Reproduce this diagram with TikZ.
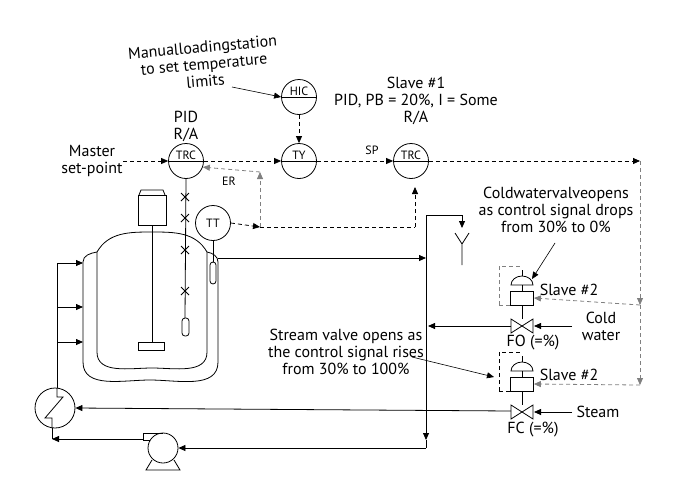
\documentclass[tikz,border=0pt]{standalone}
\usepackage{fontspec}
\setmainfont{PT Sans}
\usetikzlibrary{arrows.meta}
\begin{document}
\begin{tikzpicture}[x=1pt,y=-1pt,line width=0.8pt,
  inst/.style={circle,draw,minimum size=35pt,inner sep=0pt,font=\fontsize{12}{12}\selectfont},
  sig/.style={dashed,dash pattern=on 4pt off 3pt},
  gsig/.style={sig,draw=gray},
  arr/.style={-{Triangle[length=7pt,width=6pt]}},
  lbl/.style={font=\fontsize{16}{17}\selectfont,align=center,inner sep=1pt},
  small/.style={font=\fontsize{12}{12}\selectfont}]
\useasboundingbox (0,0) rectangle (676,479);
% instruments
\foreach \n/\x/\y/\t in {trc1/186/161/TRC,ty/299/161/TY,trc2/411/161/TRC,hic/299/97/HIC}{
  \node[inst] (\n) at (\x,\y) {};
  \draw (\x-17.5,\y) -- (\x+17.5,\y);
  \node[small,anchor=south,inner sep=1pt] at (\x,\y) {\t};
}
\node[inst] (tt) at (213,223) {TT};
% texts
\node[lbl] (master) at (92,161) {Master\\set-point};
\node[lbl] (pid) at (186,126) {PID\\R/A};
\node[lbl,rotate=5] (manual) at (204,64) {Manualloadingstation\\to set temperature\\limits};
\node[lbl] (slave1) at (416,101) {Slave \#1\\PID, PB = 20\%, I = Some\\R/A};
\node[small] (sp) at (372,150) {SP};
\node[small] (er) at (229,181) {ER};
\node[lbl] (cwnote) at (556,210) {Coldwatervalveopens\\as control signal drops\\from 30\% to 0\%};
\node[lbl] (stnote) at (346,352) {Stream valve opens as\\the control signal rises\\from 30\% to 100\%};
% signal lines
\coordinate (mstart) at (123,161);
\draw[sig,arr] (mstart) -- (trc1.west);
\draw[sig,arr] (trc1.east) -- (ty.west);
\draw[sig,arr] (ty.east) -- (trc2.west);
\draw[sig,arr] (hic.south) -- (ty.north);
\coordinate (rend) at (640,161);
\draw[sig,arr] (trc2.east) -- (rend);
\coordinate (er1) at (260,227);
\coordinate (er2) at (260,172);
\draw[sig,arr] (tt.east) -- (er1);
\draw[sig] (er1) -- (415,227);
\draw[sig,arr] (415,227) -- (415,187);
\draw[gsig,arr] (er1) -- (er2);
\draw[gsig,arr] (er2) -- (trc1.-20);
\coordinate (v1) at (640,305);
\coordinate (v2) at (640,385);
\draw[gsig,arr] (rend) -- (v1);
\draw[gsig,arr] (v1) -- (v2);
\coordinate (lim) at (232,87);
\draw[arr,line width=0.6pt] (lim) -- (hic.west);
% tank
\draw (83,262) -- (83,362) to[out=-90,in=180] (150,380) to[out=0,in=-90] (218,362) -- (218,262);
\draw (83,262) to[out=90,in=190] (97,252);
\draw (218,262) to[out=90,in=-10] (207,252);
\draw (97,252) to[out=60,in=180] (152,232) to[out=0,in=120] (207,252);
\draw (97,252) -- (97,352) to[out=-90,in=180] (152,368) to[out=0,in=-90] (207,352) -- (207,252);
% motor and agitator
\node[draw,minimum width=28pt,minimum height=30pt,inner sep=0pt] (motor) at (152,210) {};
\draw (139,195) -- (141,190) -- (163,190) -- (165,195);
\draw (motor.south) -- (152,342);
\node[draw,minimum width=26pt,minimum height=8pt,inner sep=0pt] (imp) at (151,346) {};
% thermowell
\draw (trc1.south) -- (185,318);
\foreach \y in {197,218,250,291}{\draw (181,\y-4)--(189,\y+4) (181,\y+4)--(189,\y-4);}
\draw[rounded corners=3pt] (182,318) rectangle (189,336);
\draw (tt.south) -- (213,262);
\draw[rounded corners=3pt] (210,262) rectangle (216,284);
% piping
\coordinate (tout) at (218,258);
\coordinate (vline) at (426,258);
\draw[arr] (tout) -- (vline);
\draw (426,215) -- (462,215);
\draw[arr] (462,215) -- (462,228);
\draw (455,233) -- (462,244) -- (469,233) (462,244) -- (462,265);
\draw[arr] (426,215) -- (426,440);
\draw (426,440) -- (426,448);
% left jacket feed
\draw (57,388) -- (57,263);
\foreach \y in {263,307,342}{\draw[arr] (57,\y) -- (83,\y);}
% heat exchanger
\node[circle,draw,minimum size=40pt,inner sep=0pt] (hx) at (55,408) {};
\draw (57,388) -- (57,397) -- (63,397) -- (45,418) -- (52,418) -- (52,428);
\draw (52,428) -- (52,439);
% pump
\node[circle,draw,minimum size=30pt,inner sep=0pt] (pump) at (163,448) {};
\draw (150,440) -- (143,440) -- (143,433) -- (163,433);
\draw (152,460) -- (146,470) -- (180,470) -- (174,460);
\draw[arr] (426,448) -- (pump.east);
\draw[arr] (143,439) -- (52,439);
% valves
\def\valve#1#2#3{%
  \draw (#2-11,#3-7) -- (#2+11,#3+7) -- (#2+11,#3-7) -- (#2-11,#3+7) -- cycle;
  \node[draw,minimum width=23pt,minimum height=14pt,inner sep=0pt] (#1box) at (#2,#3-28) {};
  \draw (#1box.south) -- (#2,#3-7);
  \draw (#2-11,#3-41) arc (180:360:11 and 9) -- cycle;
  \draw (#1box.north) -- (#2,#3-41);
  \draw (#2,#3-50) -- (#2,#3-56);
}
\valve{cw}{522}{326}
\valve{st}{522}{412}
\coordinate (cwv) at (511,326);
\coordinate (cwin) at (572,326);
\draw[arr] (cwin) -- (534,326);
\draw[arr] (cwv) -- (428,326);
\node[lbl] (coldw) at (601,326) {Cold\\water};
\node[lbl] (fo) at (533,343) {FO (=\%)};
\node[lbl] (sl2a) at (569,290) {Slave \#2};
\draw[gsig,arr] (v1) -- (cwbox.east);
\draw[gsig] (499,305) -- (499,266) -- (522,266);
\draw[gsig] (499,305) -- (510,305);
\draw[arr,line width=0.6pt] (555,243) -- (532,279);
% steam valve
\draw[arr] (572,412) -- (534,412);
\node[lbl] (steam) at (598,412) {Steam};
\node[lbl] (fc) at (533,430) {FC (=\%)};
\node[lbl] (sl2b) at (569,375) {Slave \#2};
\draw[gsig,arr] (v2) -- (stbox.east);
\draw[sig] (499,391) -- (499,352) -- (522,352);
\draw[sig] (499,391) -- (510,391);
\draw[arr] (511,411) -- (hx.east);
\draw[arr,line width=0.6pt] (412,357) -- (494,377);
\end{tikzpicture}
\end{document}
